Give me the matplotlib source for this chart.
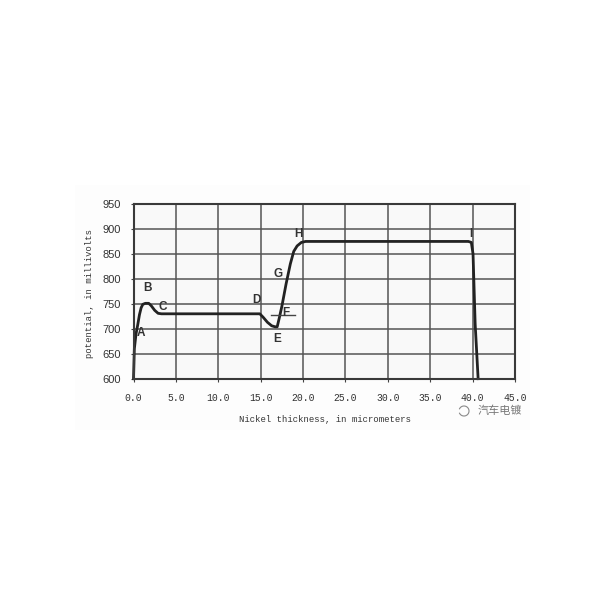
import matplotlib
matplotlib.use('Agg')
import matplotlib.pyplot as plt
from matplotlib.patches import Rectangle, Arc

# curve
thickness = [0.0, 0.05, 0.1, 0.2, 0.3, 0.5, 0.7, 0.9, 1.1, 1.4, 1.8, 2.1, 2.5, 2.9, 3.3, 5.0, 10.0, 14.0, 14.9, 15.3, 15.8, 16.3, 16.7, 16.95, 17.2, 17.5, 18.0, 18.5, 18.9, 19.3, 19.8, 20.3, 25.0, 30.0, 35.0, 39.5, 39.85, 40.05, 40.3, 40.65]
potential = [600, 630, 660, 675, 690, 708, 728, 742, 749, 751, 751, 746, 737, 731, 730, 730, 730, 730, 730, 723, 713, 706, 704, 704, 722, 745, 790, 830, 855, 866, 873, 875, 875, 875, 875, 875, 873, 850, 710, 600]

x_ticks = [0, 5, 10, 15, 20, 25, 30, 35, 40, 45]
x_labels = ['0.0', '5.0', '10.0', '15.0', '20.0', '25.0', '30.0', '35.0', '40.0', '45.0']
y_ticks = [600, 650, 700, 750, 800, 850, 900, 950]

letters = ['A', 'B', 'C', 'D', 'E', 'F', 'G', 'H', 'I']
letter_x = [0.9, 1.6, 3.4, 14.5, 17.0, 18.0, 17.0, 19.5, 39.8]
letter_y = [692, 781, 744, 757, 680, 732, 809, 890, 890]

F_line_x = [16.2, 19.1]
F_line_y = [727, 727]

fig = plt.figure(figsize=(6, 6), dpi=100)

# faint speckled scan background, kept as a flat tint
fig.add_artist(Rectangle((75/600, 1-430/600), 455/600, 245/600, transform=fig.transFigure,
                         facecolor='#fdfdfd', edgecolor='none', zorder=-1))

ax = fig.add_axes([133.5/600, 1-378.7/600, (515-133.5)/600, (378.7-204)/600])
ax.patch.set_facecolor('#f9f9f9')
ax.set_xlim(0, 45)
ax.set_ylim(600, 950)
ax.set_xticks(x_ticks)
ax.set_xticklabels(x_labels, family='Liberation Mono', fontsize=7, color='#333333')
ax.set_yticks(y_ticks)
ax.set_yticklabels([str(v) for v in y_ticks], family='Liberation Sans', fontsize=8, color='#333333')
ax.tick_params(axis='x', length=2, width=0.8, color='#444444', pad=8)
ax.tick_params(axis='y', length=2, width=0.8, color='#444444', pad=7)
ax.grid(True, color='#555555', linewidth=1.1)
ax.set_axisbelow(True)
for s in ax.spines.values():
    s.set_linewidth(1.5)
    s.set_color('#3a3a3a')

ax.plot(thickness, potential, color='#222222', linewidth=2, solid_joinstyle='round', clip_on=False)
ax.plot(F_line_x, F_line_y, color='#444444', linewidth=1)

for name, lx, ly in zip(letters, letter_x, letter_y):
    ax.text(lx, ly, name, ha='center', va='center', fontsize=8.5, fontweight='bold',
            family='Liberation Sans', color='#333333')

fig.text(325/600, 1-420/600, 'Nickel thickness, in micrometers', ha='center', va='center',
         family='Liberation Mono', fontsize=6.4, color='#333333')
fig.text(89/600, 1-294/600, 'potential, in millivolts', rotation=90, ha='center', va='center',
         family='Liberation Mono', fontsize=6.4, color='#333333')

# watermark
fig.text(499.5/600, 1-411/600, '汽车电镀', ha='center', va='center',
         family='Noto Sans CJK SC', fontsize=8, color='#777777')
fig.add_artist(Arc((464/600, 1-411/600), 10/600, 10/600, theta1=200, theta2=520,
                   transform=fig.transFigure, color='#888888', linewidth=0.8))

fig.savefig('out.png', dpi=100)
